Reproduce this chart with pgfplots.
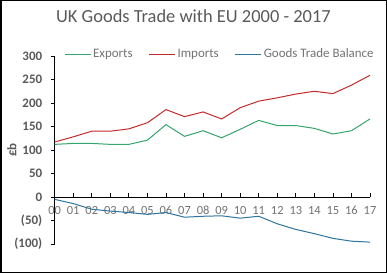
\documentclass[border=0pt]{standalone}
\usepackage{fontspec}
\setmainfont{Carlito}
\usepackage{pgfplots}
\pgfplotsset{compat=1.18}
\definecolor{expc}{RGB}{52,165,108}
\definecolor{impc}{RGB}{196,42,42}
\definecolor{balc}{RGB}{46,116,158}
\definecolor{txtc}{RGB}{89,89,89}
\definecolor{xtxt}{RGB}{115,115,115}
\begin{document}
\begin{tikzpicture}
\useasboundingbox (0,0) rectangle (387bp,273bp);
\draw[line width=1.5bp] (0.75bp,0.75bp) rectangle (386.25bp,272.25bp);
\begin{axis}[
  at={(54.7bp,29bp)}, anchor=south west,
  scale only axis, width=315.3bp, height=188bp,
  xmin=0, xmax=17, ymin=-100, ymax=300,
  axis x line=middle, axis y line=left,
  hide obscured x ticks=false,
  hide obscured y ticks=false,
  axis line style={-, black, line width=0.8bp},
  xtick={0,...,17},
  xticklabels={00,01,02,03,04,05,06,07,08,09,10,11,12,13,14,15,16,17},
  ytick={-100,-50,0,50,100,150,200,250,300},
  yticklabels={(100),(50),0,50,100,150,200,250,300},
  /pgf/number format/assume math mode=true,
  x tick style={black, line width=0.8bp},
  y tick style={black, line width=0.8bp},
  xtick align=inside,
  ytick align=outside,
  major tick length=4bp,
  xticklabel style={font=\fontsize{12.5}{14}\selectfont, text=xtxt, anchor=north, yshift=-5.5bp},
  yticklabel style={font=\bfseries\fontsize{13}{15}\selectfont, text=txtc, xshift=-5bp},
  ylabel={£b},
  every axis y label/.style={at={(rel axis cs:0,0.5)}, xshift=-42.7bp, rotate=90, anchor=center,
    font=\bfseries\fontsize{13}{15}\selectfont, text=txtc},
  title={UK Goods Trade with EU 2000 - 2017},
  title style={font=\fontsize{18.5}{22}\selectfont, text=txtc, at={(rel axis cs:0.44,1.181)}, anchor=center},
  legend columns=3,
  legend style={draw=none, fill=none, at={(rel axis cs:0.524,1.01)}, anchor=center,
    font=\fontsize{13}{15}\selectfont, text=xtxt,
    /tikz/every even column/.append style={column sep=14bp}},
  legend image code/.code={\draw[#1] (0bp,0bp) -- (26bp,0bp);},
  every axis plot/.append style={line width=1bp, mark=none},
  clip=false,
]
\addplot[expc] coordinates {(0,112) (1,114) (2,114) (3,112) (4,112) (5,121) (6,154) (7,129) (8,141) (9,126) (10,144) (11,163) (12,152) (13,152) (14,146) (15,134) (16,141) (17,166)};
\addlegendentry{Exports}
\addplot[impc] coordinates {(0,117) (1,128) (2,140) (3,140) (4,145) (5,158) (6,186) (7,171) (8,181) (9,166) (10,190) (11,204) (12,211) (13,219) (14,225) (15,220) (16,238) (17,259)};
\addlegendentry{Imports}
\addplot[balc] coordinates {(0,-5) (1,-14) (2,-26) (3,-30) (4,-33) (5,-37) (6,-33) (7,-43) (8,-41) (9,-40) (10,-45) (11,-41) (12,-57) (13,-69) (14,-78) (15,-88) (16,-94) (17,-96)};
\addlegendentry{Goods Trade Balance}
\end{axis}
\end{tikzpicture}
\end{document}
